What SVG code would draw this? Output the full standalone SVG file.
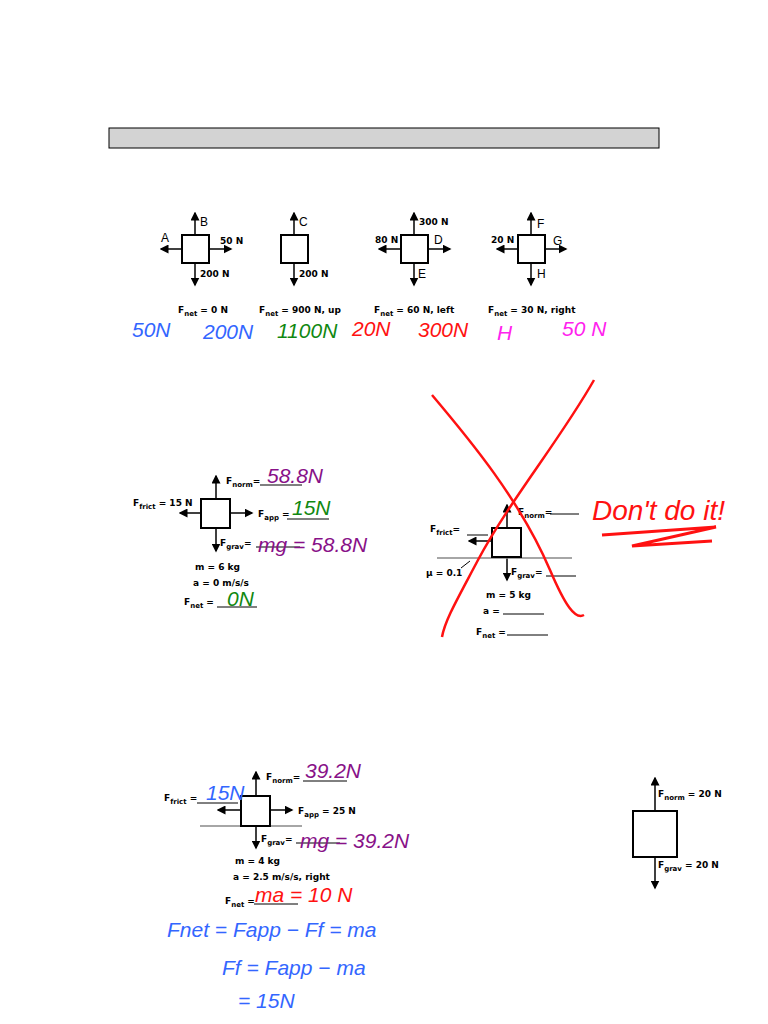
<svg xmlns="http://www.w3.org/2000/svg" width="768" height="1024" viewBox="0 0 768 1024">
<style>
.b{fill:#fff;stroke:#000;stroke-width:2}
.a{stroke:#000;stroke-width:1.5;fill:none;marker-end:url(#ar)}
.l{stroke:#000;stroke-width:1;fill:none}
.g{stroke:#888;stroke-width:1.5}
.t{font-family:"DejaVu Sans",sans-serif;font-size:9px;font-weight:bold}
.s{font-size:7px}
.L{font-family:"Liberation Sans",sans-serif;font-size:12px}
.h{font-family:"Liberation Sans",sans-serif;font-size:21px;font-style:italic}
.bl{fill:#3366ff}.gr{fill:#118811}.rd{fill:#ff1111}.mg{fill:#ff22ee}.pu{fill:#881188}
</style>
<defs><marker id="ar" markerWidth="6" markerHeight="6" refX="5" refY="3" orient="auto"><path d="M0,0L6,3L0,6z"/></marker></defs>
<rect x="109" y="128" width="550" height="20" fill="#d3d3d3" stroke="#000"/>
<g id="connectors">
<path class="a" d="M195,235V213"/><path class="a" d="M182,249H161"/><path class="a" d="M209,249H231"/><path class="a" d="M195,263V285"/>
<path class="a" d="M294,235V213"/><path class="a" d="M294,263V285"/>
<path class="a" d="M414,235V213"/><path class="a" d="M401,249H379"/><path class="a" d="M428,249H450"/><path class="a" d="M414,263V285"/>
<path class="a" d="M531,235V213"/><path class="a" d="M518,249H497"/><path class="a" d="M545,249H566"/><path class="a" d="M531,263V285"/>
<path class="a" d="M216,499V476"/><path class="a" d="M201,513H180"/><path class="a" d="M230,513H252"/><path class="a" d="M216,528V551"/>
<path class="a" d="M507,528V505"/><path class="a" d="M492,541H469"/><path class="a" d="M507,557V580"/>
<path class="a" d="M256,796V772"/><path class="a" d="M241,810H218"/><path class="a" d="M270,810H292"/><path class="a" d="M256,826V848"/>
<path class="a" d="M655,811V778"/><path class="a" d="M655,857V888"/>
</g>
<g id="nA"><rect class="b" x="182" y="235" width="27" height="28"/><text class="L" x="200" y="226">B</text><text class="L" x="161" y="242">A</text><text class="t" x="220" y="244">50 N</text><text class="t" x="200" y="277">200 N</text><text class="t" x="178" y="313">F<tspan class="s" dy="3">net</tspan><tspan dy="-3"> = 0 N</tspan></text></g>
<g id="nC"><rect class="b" x="281" y="235" width="27" height="28"/><text class="L" x="299" y="226">C</text><text class="t" x="299" y="277">200 N</text><text class="t" x="259" y="313">F<tspan class="s" dy="3">net</tspan><tspan dy="-3"> = 900 N, up</tspan></text></g>
<g id="nD"><rect class="b" x="401" y="235" width="27" height="28"/><text class="t" x="419" y="225">300 N</text><text class="t" x="375" y="243">80 N</text><text class="L" x="434" y="244">D</text><text class="L" x="418" y="278">E</text><text class="t" x="374" y="313">F<tspan class="s" dy="3">net</tspan><tspan dy="-3"> = 60 N, left</tspan></text></g>
<g id="nG"><rect class="b" x="518" y="235" width="27" height="28"/><text class="L" x="537" y="228">F</text><text class="t" x="491" y="243">20 N</text><text class="L" x="553" y="245">G</text><text class="L" x="537" y="278">H</text><text class="t" x="488" y="313">F<tspan class="s" dy="3">net</tspan><tspan dy="-3"> = 30 N, right</tspan></text></g>
<g id="hand1"><text class="h bl" x="132" y="337">50N</text><text class="h bl" x="203" y="339">200N</text><text class="h gr" x="277" y="338">1100N</text><text class="h rd" x="352" y="336">20N</text><text class="h rd" x="418" y="337">300N</text><text class="h mg" x="497" y="340">H</text><text class="h mg" x="562" y="336">50 N</text></g>
<g id="n2"><rect class="b" x="201" y="499" width="29" height="29"/>
<text class="t" x="226" y="484">F<tspan class="s" dy="3">norm</tspan><tspan dy="-3">=</tspan></text><path class="l" d="M260,485H302"/><text class="h pu" x="267" y="483">58.8N</text>
<text class="t" x="133" y="506">F<tspan class="s" dy="3">frict</tspan><tspan dy="-3"> = 15 N</tspan></text>
<text class="t" x="258" y="517">F<tspan class="s" dy="3">app</tspan><tspan dy="-3"> =</tspan></text><path class="l" d="M287,519H329"/><text class="h gr" x="292" y="515">15N</text>
<text class="t" x="220" y="546">F<tspan class="s" dy="3">grav</tspan><tspan dy="-3">=</tspan></text><path class="l" d="M256,547H300"/><text class="h pu" x="258" y="552">mg = 58.8N</text>
<text class="t" x="195" y="570">m = 6 kg</text><text class="t" x="193" y="586">a = 0 m/s/s</text>
<text class="t" x="184" y="605">F<tspan class="s" dy="3">net</tspan><tspan dy="-3"> =</tspan></text><path class="l" d="M217,607H257"/><text class="h gr" x="227" y="606">0N</text></g>
<g id="n3"><path class="g" d="M437,558H572"/><rect class="b" x="492" y="528" width="29" height="29"/>
<path class="l" d="M467,535H488"/>
<text class="t" x="518" y="515">F<tspan class="s" dy="3">norm</tspan><tspan dy="-3">=</tspan></text><path class="l" d="M550,514H579"/>
<text class="t" x="430" y="532">F<tspan class="s" dy="3">frict</tspan><tspan dy="-3">=</tspan></text>
<text class="t" x="426" y="576">μ = 0.1</text><path class="l" d="M461,568L470,561"/>
<text class="t" x="511" y="575">F<tspan class="s" dy="3">grav</tspan><tspan dy="-3">=</tspan></text><path class="l" d="M546,576H576"/>
<text class="t" x="486" y="598">m = 5 kg</text><text class="t" x="483" y="614">a =</text><path class="l" d="M503,614H544"/>
<text class="t" x="476" y="635">F<tspan class="s" dy="3">net</tspan><tspan dy="-3"> =</tspan></text><path class="l" d="M507,635H548"/>
<path d="M432,395C470,440 520,500 550,570C565,605 575,620 584,615" stroke="#ff1111" stroke-width="2.5" fill="none"/>
<path d="M594,380C560,440 510,500 478,560C458,598 445,620 442,637" stroke="#ff1111" stroke-width="2.5" fill="none"/>
<text font-family="Liberation Sans,sans-serif" font-size="28" font-style="italic" fill="#ff1111" x="592" y="520">Don't do it!</text>
<path d="M602,535L716,527L632,546L712,541" stroke="#ff1111" stroke-width="3" fill="none"/></g>
<g id="n4"><path class="g" d="M200,826H302"/><rect class="b" x="241" y="796" width="29" height="30"/>
<text class="t" x="266" y="780">F<tspan class="s" dy="3">norm</tspan><tspan dy="-3">=</tspan></text><path class="l" d="M303,781H347"/><text class="h pu" x="305" y="778">39.2N</text>
<text class="t" x="164" y="801">F<tspan class="s" dy="3">frict</tspan><tspan dy="-3"> =</tspan></text><path class="l" d="M197,803H238"/><text class="h bl" x="206" y="800">15N</text>
<text class="t" x="298" y="814">F<tspan class="s" dy="3">app</tspan><tspan dy="-3"> = 25 N</tspan></text>
<text class="t" x="261" y="842">F<tspan class="s" dy="3">grav</tspan><tspan dy="-3">=</tspan></text><path class="l" d="M296,843H340"/><text class="h pu" x="300" y="848">mg = 39.2N</text>
<text class="t" x="235" y="864">m = 4 kg</text><text class="t" x="233" y="880">a = 2.5 m/s/s, right</text>
<text class="t" x="225" y="904">F<tspan class="s" dy="3">net</tspan><tspan dy="-3"> =</tspan></text><path class="l" d="M254,904H298"/><text class="h rd" x="255" y="902" font-size="15">ma = 10 N</text></g>
<g id="n5"><rect class="b" x="633" y="811" width="44" height="46"/>
<text class="t" x="658" y="797">F<tspan class="s" dy="3">norm</tspan><tspan dy="-3"> = 20 N</tspan></text>
<text class="t" x="658" y="868">F<tspan class="s" dy="3">grav</tspan><tspan dy="-3"> = 20 N</tspan></text></g>
<g id="eq"><text class="h bl" x="167" y="937" font-size="24">Fnet = Fapp − Ff = ma</text>
<text class="h bl" x="222" y="975" font-size="24">Ff = Fapp − ma</text>
<text class="h bl" x="238" y="1008" font-size="24">= 15N</text></g>
</svg>
